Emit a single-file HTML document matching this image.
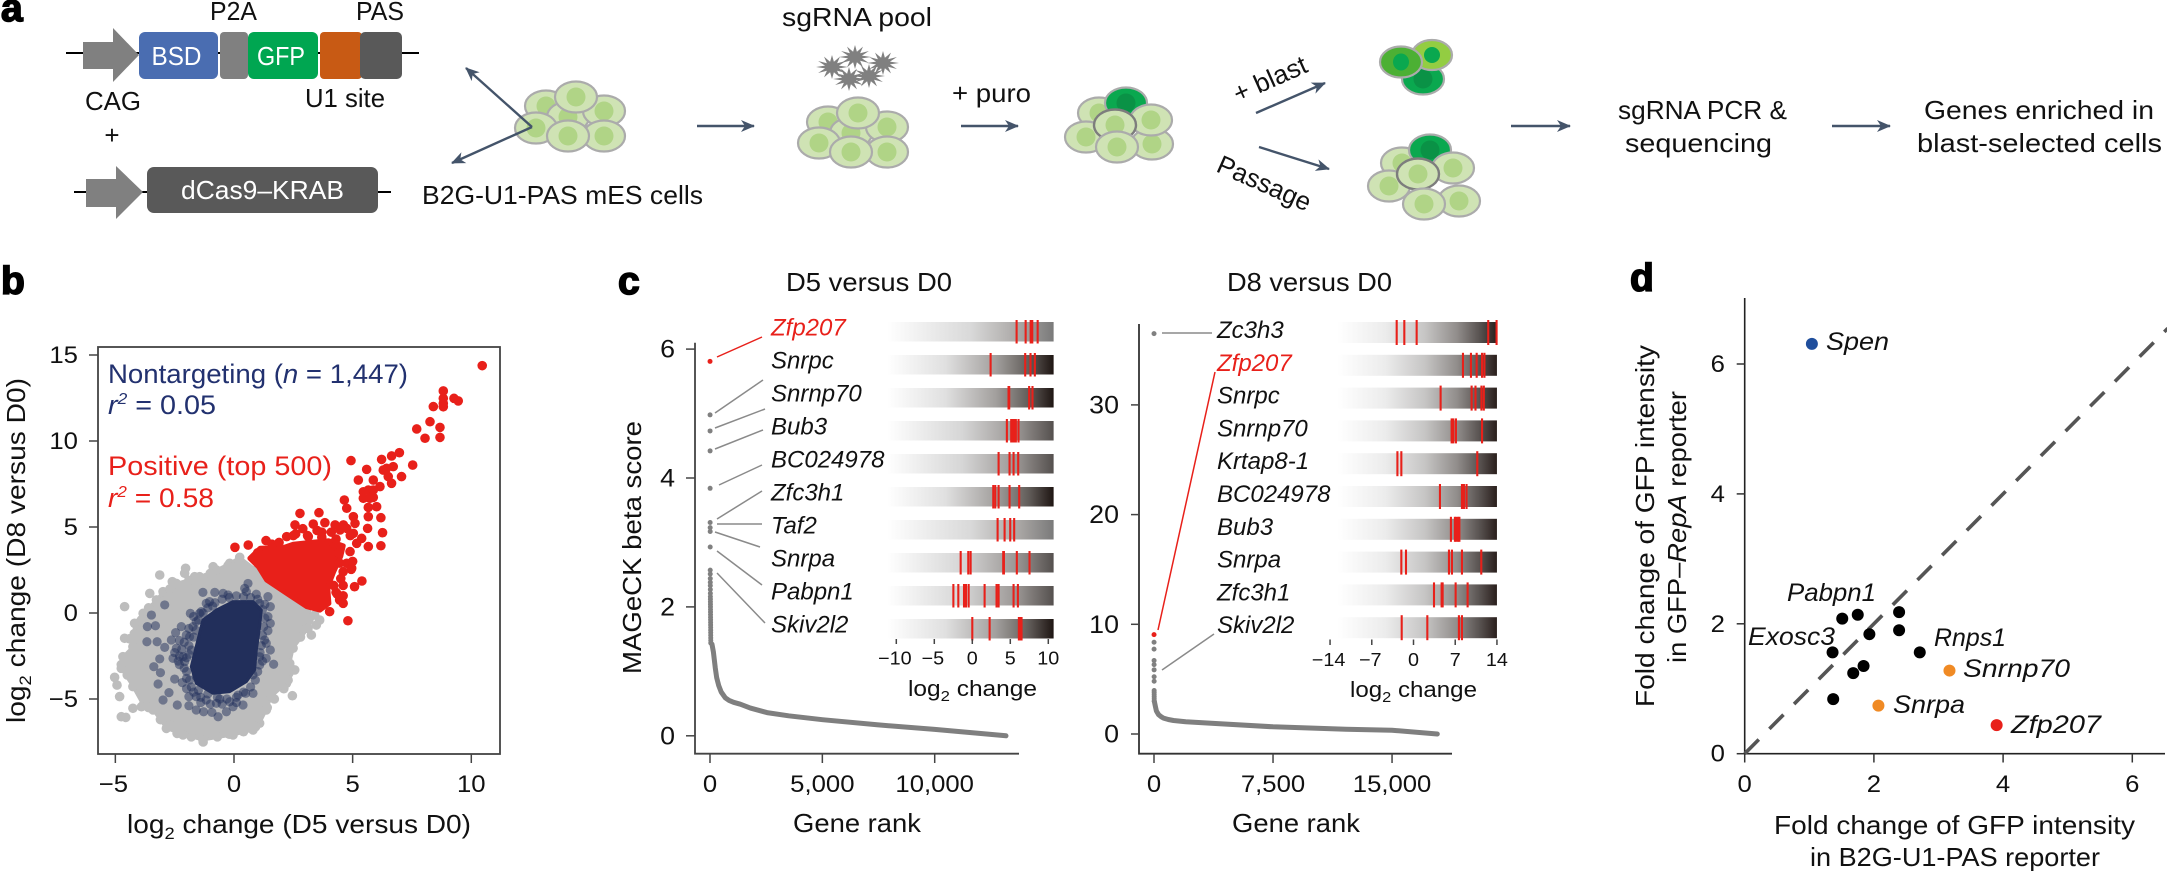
<!DOCTYPE html>
<html lang="en">
<head>
<meta charset="utf-8">
<title>CRISPRi screen figure</title>
<style>
html,body{margin:0;padding:0;background:#fff;}
svg{display:block;}
text{font-family:"Liberation Sans",sans-serif;fill:#111;}
.lab{font-family:"Liberation Sans",sans-serif;font-weight:bold;font-size:39px;fill:#000;stroke:#000;stroke-width:1.6px;}
.a{font-size:26px;}
.ax{font-size:26px;}
.it{font-style:italic;font-size:25px;}
</style>
</head>
<body>
<svg id="fig" xmlns="http://www.w3.org/2000/svg" width="2167" height="871" viewBox="0 0 2167 871">
<defs>
  <marker id="arrowhead" markerUnits="userSpaceOnUse" markerWidth="16" markerHeight="14" refX="13" refY="7" orient="auto">
    <path d="M0,1 L14,7 L0,13 L4,7 Z" fill="#44546a"/>
  </marker>
  <g id="cell-light"><ellipse rx="21" ry="15.5" fill="#cfe3b4" stroke="#ababab" stroke-width="2.2"/><ellipse rx="9.5" ry="9.5" fill="#b0d486"/></g>
  <g id="cell-front"><ellipse rx="21" ry="15.5" fill="#cfe3b4" stroke="#7d7d7d" stroke-width="2.4"/><ellipse rx="9.5" ry="9.5" fill="#b0d486"/></g>
  <g id="cell-dark"><ellipse rx="21" ry="15.5" fill="#0aa84f" stroke="#ababab" stroke-width="2.2"/><ellipse rx="9.5" ry="9.5" fill="#0a9246"/></g>
  <g id="cell-mid"><ellipse rx="21" ry="15.5" fill="#4cb034" stroke="#ababab" stroke-width="2.2"/><ellipse rx="8" ry="8.5" fill="#0aa84f"/></g>
  <g id="cell-lime"><ellipse rx="20" ry="15" fill="#93cd42" stroke="#ababab" stroke-width="2.2"/><ellipse rx="8" ry="8" fill="#0aa84f"/></g>
  <polygon id="sgrna-star" fill="#808080" points="16,0 6.95,1.4 13.9,6 5.1,3.8 8,10.4 1.9,5.2 0,12 -1.9,5.2 -8,10.4 -5.1,3.8 -13.9,6 -6.95,1.4 -16,0 -6.95,-1.4 -13.9,-6 -5.1,-3.8 -8,-10.4 -1.9,-5.2 0,-12 1.9,-5.2 8,-10.4 5.1,-3.8 13.9,-6 6.95,-1.4"/>
  <linearGradient id="strip-light"><stop offset="0" stop-color="#fff"/><stop offset=".5" stop-color="#d9d9d9"/><stop offset=".8" stop-color="#a8a5a3"/><stop offset="1" stop-color="#7a7a7a"/></linearGradient>
  <linearGradient id="strip-mid"><stop offset="0" stop-color="#fff"/><stop offset=".45" stop-color="#d6d6d6"/><stop offset=".78" stop-color="#9a9694"/><stop offset="1" stop-color="#55504e"/></linearGradient>
  <linearGradient id="strip-dark"><stop offset="0" stop-color="#fff"/><stop offset=".35" stop-color="#e0e0e0"/><stop offset=".65" stop-color="#a3a09e"/><stop offset=".85" stop-color="#625d5a"/><stop offset="1" stop-color="#1e1512"/></linearGradient>
  <linearGradient id="strip-d8"><stop offset="0" stop-color="#fff"/><stop offset=".3" stop-color="#ececec"/><stop offset=".55" stop-color="#c6c5c4"/><stop offset=".75" stop-color="#918d8b"/><stop offset=".9" stop-color="#554f4d"/><stop offset="1" stop-color="#2a1f1c"/></linearGradient>
</defs>

<!-- PANEL A -->
<g>
  <text class="lab" x="1" y="21">a</text>
  <g>
    <line x1="66" y1="53" x2="419" y2="53" stroke="#000" stroke-width="2"/>
    <polygon points="83,42 113,42 113,28 139,55 113,82 113,69 83,69" fill="#808080"/>
    <rect x="139" y="32" width="79" height="47" rx="6" fill="#4a6db1"/>
    <rect x="220" y="32" width="28" height="47" rx="4" fill="#808080"/>
    <rect x="248" y="32" width="70" height="47" rx="6" fill="#00a651"/>
    <rect x="320" y="32" width="42" height="47" rx="4" fill="#c85a14"/>
    <rect x="360" y="32" width="42" height="47" rx="5" fill="#595959"/>
    <text class="a" x="151.5" y="65" textLength="50" style="fill:#fff">BSD</text>
    <text class="a" x="257" y="65" textLength="48" style="fill:#fff">GFP</text>
    <text class="a" x="210" y="20" textLength="47">P2A</text>
    <text class="a" x="356" y="20" textLength="48">PAS</text>
    <text class="a" x="85" y="110" textLength="56">CAG</text>
    <text class="a" x="305" y="107" textLength="80">U1 site</text>
    <text class="a" x="112" y="144" text-anchor="middle">+</text>
  </g>
  <g>
    <line x1="74" y1="192" x2="391" y2="192" stroke="#000" stroke-width="2"/>
    <polygon points="86,179 116,179 116,166 143,192 116,219 116,207 86,207" fill="#808080"/>
    <rect x="147" y="167" width="231" height="46" rx="7" fill="#595959"/>
    <text class="a" x="181" y="199" textLength="163" style="fill:#fff">dCas9–KRAB</text>
  </g>
  <text class="a" x="422" y="204" textLength="281">B2G-U1-PAS mES cells</text>

  <g>
    <use href="#cell-light" x="546" y="106"/><use href="#cell-light" x="568" y="117"/><use href="#cell-light" x="604" y="111"/><use href="#cell-light" x="576" y="97"/><use href="#cell-light" x="536" y="128"/><use href="#cell-light" x="604" y="136"/><use href="#cell-light" x="568" y="136"/>
  </g>
  <line x1="532" y1="127" x2="466" y2="68" stroke="#44546a" stroke-width="2.4" marker-end="url(#arrowhead)"/>
  <line x1="532" y1="127" x2="452" y2="163" stroke="#44546a" stroke-width="2.4" marker-end="url(#arrowhead)"/>
  <line x1="697" y1="126" x2="754" y2="126" stroke="#44546a" stroke-width="2.4" marker-end="url(#arrowhead)"/>

  <text class="a" x="782" y="26" textLength="150">sgRNA pool</text>
  <g>
    <use href="#sgrna-star" x="832" y="67"/><use href="#sgrna-star" x="855" y="57"/><use href="#sgrna-star" x="883" y="63"/><use href="#sgrna-star" x="849" y="79"/><use href="#sgrna-star" x="869" y="76"/>
  </g>
  <g>
    <use href="#cell-light" x="828" y="122"/><use href="#cell-light" x="851" y="133"/><use href="#cell-light" x="887" y="127"/><use href="#cell-light" x="858" y="113"/><use href="#cell-light" x="819" y="143"/><use href="#cell-light" x="887" y="152"/><use href="#cell-light" x="851" y="152"/>
  </g>
  <text class="a" x="952" y="102" textLength="79">+ puro</text>
  <line x1="961" y1="126" x2="1018" y2="126" stroke="#44546a" stroke-width="2.4" marker-end="url(#arrowhead)"/>
  <g>
    <use href="#cell-light" x="1099" y="113"/><use href="#cell-dark" x="1126" y="103"/><use href="#cell-light" x="1152" y="144"/><use href="#cell-light" x="1151" y="120"/><use href="#cell-light" x="1086" y="137"/><use href="#cell-front" x="1115" y="125"/><use href="#cell-light" x="1117" y="147"/>
  </g>
  <text class="a" transform="translate(1238,103) rotate(-24)" textLength="78">+ blast</text>
  <line x1="1256" y1="113" x2="1325" y2="83" stroke="#44546a" stroke-width="2.4" marker-end="url(#arrowhead)"/>
  <text class="a" transform="translate(1215,171) rotate(24)" textLength="100">Passage</text>
  <line x1="1259" y1="147" x2="1329" y2="169" stroke="#44546a" stroke-width="2.4" marker-end="url(#arrowhead)"/>
  <g>
    <use href="#cell-dark" x="1423" y="79"/><use href="#cell-lime" x="1432" y="55"/><use href="#cell-mid" x="1401" y="62"/>
  </g>
  <g>
    <use href="#cell-light" x="1402" y="163"/><use href="#cell-dark" x="1430" y="150"/><use href="#cell-light" x="1459" y="201"/><use href="#cell-light" x="1453" y="168"/><use href="#cell-light" x="1389" y="186"/><use href="#cell-front" x="1418" y="174"/><use href="#cell-light" x="1424" y="204"/>
  </g>
  <line x1="1511" y1="126" x2="1570" y2="126" stroke="#44546a" stroke-width="2.4" marker-end="url(#arrowhead)"/>
  <text class="a" x="1618" y="119" textLength="169">sgRNA PCR &amp;</text>
  <text class="a" x="1625" y="152" textLength="147">sequencing</text>
  <line x1="1832" y1="126" x2="1890" y2="126" stroke="#44546a" stroke-width="2.4" marker-end="url(#arrowhead)"/>
  <text class="a" x="1924" y="119" textLength="230">Genes enriched in</text>
  <text class="a" x="1917" y="152" textLength="245">blast-selected cells</text>
</g>

<!-- PANEL B -->
<g>
  <text class="lab" x="1" y="294">b</text>
  <g id="b-marks"></g>
  <rect x="98" y="347" width="402" height="407" fill="none" stroke="#444" stroke-width="1.8"/>
  <g id="b-axes"></g>
  <text x="108" y="383" font-size="26.5" textLength="300" style="fill:#22316f">Nontargeting (<tspan font-style="italic">n</tspan> = 1,447)</text>
  <text x="108" y="414" font-size="26.5" textLength="108" style="fill:#22316f"><tspan font-style="italic">r</tspan><tspan dy="-10" font-size="16" font-style="italic">2</tspan><tspan dy="10"> = 0.05</tspan></text>
  <text x="108" y="475" font-size="26.5" textLength="224" style="fill:#e8201a">Positive (top 500)</text>
  <text x="108" y="507" font-size="26.5" textLength="106" style="fill:#e8201a"><tspan font-style="italic">r</tspan><tspan dy="-10" font-size="16" font-style="italic">2</tspan><tspan dy="10"> = 0.58</tspan></text>
  <text class="ax" x="127" y="833" textLength="344">log<tspan dy="6" font-size="17">2</tspan><tspan dy="-6"> change (D5 versus D0)</tspan></text>
  <text class="ax" transform="translate(25,723) rotate(-90)" textLength="345">log<tspan dy="6" font-size="17">2</tspan><tspan dy="-6"> change (D8 versus D0)</tspan></text>
</g>

<!-- PANEL C -->
<g>
  <text class="lab" x="618" y="294">c</text>
  <text class="ax" x="786" y="291" textLength="166">D5 versus D0</text>
  <text class="ax" x="1227" y="291" textLength="165">D8 versus D0</text>
  <g id="c-left"></g>
  <g id="c-right"></g>
  <g stroke="#8a8a8a" stroke-width="1.5">
    <line x1="717" y1="357" x2="762" y2="337" stroke="#e8201a"/>
    <line x1="715" y1="413" x2="763" y2="380"/>
    <line x1="715" y1="428" x2="765" y2="409"/>
    <line x1="715" y1="449" x2="763" y2="430"/>
    <line x1="719" y1="485" x2="762" y2="465"/>
    <line x1="717" y1="519" x2="762" y2="491"/>
    <line x1="717" y1="524" x2="762" y2="524"/>
    <line x1="715" y1="532" x2="760" y2="547"/>
    <line x1="717" y1="551" x2="762" y2="585"/>
    <line x1="717" y1="573" x2="765" y2="623"/>
  </g>
  <g stroke="#8a8a8a" stroke-width="1.5">
    <line x1="1162" y1="333" x2="1212" y2="333"/>
    <line x1="1158" y1="630" x2="1215" y2="372" stroke="#e8201a"/>
    <line x1="1162" y1="670" x2="1214" y2="634"/>
  </g>
  <text class="ax" x="793" y="832" textLength="128">Gene rank</text>
  <text class="ax" x="1232" y="832" textLength="128">Gene rank</text>
  <text class="ax" transform="translate(641,674) rotate(-90)" textLength="253">MAGeCK beta score</text>
  <text x="908" y="696" font-size="22" textLength="129">log<tspan dy="5" font-size="15">2</tspan><tspan dy="-5"> change</tspan></text>
  <text x="1350" y="697" font-size="22" textLength="127">log<tspan dy="5" font-size="15">2</tspan><tspan dy="-5"> change</tspan></text>
</g>

<!-- PANEL D -->
<g>
  <text class="lab" x="1630" y="291">d</text>
  <g id="d-chart"></g>
  <text class="it" x="1826" y="350" textLength="63">Spen</text>
  <text class="it" x="1787" y="601" textLength="89">Pabpn1</text>
  <text class="it" x="1748" y="645" textLength="87">Exosc3</text>
  <text class="it" x="1934" y="646" textLength="72">Rnps1</text>
  <text class="it" x="1963" y="677" textLength="107">Snrnp70</text>
  <text class="it" x="1893" y="713" textLength="72">Snrpa</text>
  <text class="it" x="2011" y="733" textLength="90">Zfp207</text>
  <text class="ax" x="1774" y="834" textLength="361">Fold change of GFP intensity</text>
  <text class="ax" x="1810" y="866" textLength="290">in B2G-U1-PAS reporter</text>
  <text class="ax" transform="translate(1654,707) rotate(-90)" textLength="362">Fold change of GFP intensity</text>
  <text class="ax" transform="translate(1686,663) rotate(-90)" textLength="272">in GFP–<tspan font-style="italic">RepA</tspan> reporter</text>
</g>
</svg>

<script>
/* ---------- panel b data (log2 change D5, log2 change D8) ---------- */
const grayCloud = [[0.24,3.24],[0.94,2.5],[1.92,1.34],[3.05,0.17],[3.4,-0.12],[3.12,-0.89],[2.49,-2.05],[2.35,-2.93],[2.56,-3.31],[2.21,-4.09],[1.57,-4.86],[1.36,-5.64],[1.08,-6.41],[0.8,-6.8],[-0.04,-7.09],[-1.31,-7.38],[-2.15,-7.09],[-2.85,-6.71],[-3.41,-5.64],[-3.83,-5.35],[-4.26,-4.28],[-4.75,-3.22],[-4.68,-2.54],[-4.26,-1.96],[-4.19,-0.6],[-3.83,-0.02],[-3.27,0.76],[-2.99,1.24],[-2.43,1.72],[-1.45,2.11],[-0.74,2.5],[-0.18,2.89]];
const grayOutliers = [[-4.61,0.37],[-3.13,2.21],[-2.6,1.82],[-2.08,2.31],[-1.66,2.11],[-2.04,2.6],[-0.88,2.69],[-0.25,2.75],[-3.55,1.14],[-5.03,-3.74],[-4.93,-4.19],[-4.82,-4.86],[-4.61,-1.47],[-4.75,-6.03],[-4.56,-6.07],[-4.26,-5.54],[2.46,-4.81],[2.28,-3.9],[3.26,-1.28],[3.61,-0.41],[3.47,-0.7],[-2.71,-6.51],[0.91,-6.61],[2.35,-3.12],[-4.4,-1.5],[-1.3,-7.5],[-0.2,-7.05],[-3.9,-5.45],[-4.75,-3.0],[-4.5,-3.6],[2.1,-4.4],[1.4,-5.5],[-3.6,0.3],[-3.9,-0.4],[-4.2,-1.2],[-2.7,1.4],[-1.9,1.9],[-1.0,2.3],[1.3,2.0],[2.4,0.8],[2.8,-1.4],[2.7,-0.6],[-2.4,-7.0],[-1.8,-7.2],[-0.7,-7.2],[0.4,-6.9],[-3.1,-6.2],[-3.6,-5.5],[1.7,-5.0],[2.0,-4.2]];
const navyCore = [[-0.04,0.66],[0.8,0.66],[1.15,0.17],[1.08,-0.79],[0.94,-2.15],[0.87,-3.31],[0.52,-3.99],[-0.18,-4.57],[-0.88,-4.67],[-1.59,-4.09],[-1.8,-3.12],[-1.66,-2.34],[-1.45,-1.18],[-1.31,-0.41],[-0.74,0.17]];
const navyPoints = [[0.59,1.72],[0.45,1.43],[0.52,1.24],[-1.31,1.2],[-0.81,1.2],[-0.46,1.14],[-0.25,1.05],[0.94,1.09],[1.43,0.95],[-1.03,0.66],[-2.92,0.47],[-3.48,-0.12],[-1.84,-0.02],[-1.38,0.08],[-1.59,-0.5],[1.53,0.37],[1.43,-0.21],[1.53,-0.6],[1.43,-1.03],[-3.65,-0.79],[-3.31,-0.74],[-2.22,-0.79],[-2.46,-1.14],[-2.01,-1.28],[-3.67,-1.67],[-3.24,-1.67],[-2.64,-1.57],[-2.92,-2],[-2.43,-2.05],[-2.15,-2.54],[-2.57,-2.64],[-3.13,-2.67],[-3.38,-3.12],[-3.1,-3.47],[-2.5,-3.84],[-2.18,-4.05],[-3.2,-4.13],[-2.74,-4.63],[-2.99,-5.06],[-2.39,-5.35],[-1.9,-4.86],[-1.59,-4.86],[-1.9,-5.39],[-1.59,-5.64],[-1.28,-5.74],[-0.93,-5.78],[-0.67,-6.03],[-0.32,-5.74],[-0.04,-5.45],[0.38,-5.35],[0.49,-4.67],[0.8,-4.67],[0.17,-4.77],[0.8,-3.6],[1.67,-2.98],[1.36,-2.64],[1.53,-2.15],[1.36,-1.76],[1.08,-3.02],[-2.08,-2.83],[-1.8,-2.15],[-1.87,-1.38],[-1.73,-0.79],[-1.59,-3.7],[-1.87,-3.9],[-1.17,-5.06],[-0.74,-5.25],[-0.18,-5.16],[-1.17,0.56],[-1.45,-0.02],[1.08,0.56],[1.29,-1.57],[1.08,-2.54],[-0.5,-5.3],[-0.6,-5.0],[0.1,-5.2],[-1.4,-4.9],[-2.0,-3.4],[-2.3,-3.0],[-2.2,-2.1],[-1.1,0.3],[-0.8,0.6],[-0.5,0.8],[-0.2,0.9],[0.1,1.0],[0.4,0.95],[0.7,0.9],[1.0,0.8],[1.3,0.5],[1.2,0.2],[1.3,-0.3],[1.25,-0.8],[1.2,-1.3],[1.15,-1.9],[1.1,-2.3],[1.2,-2.8],[1.0,-3.4],[0.9,-3.9],[0.7,-4.3],[0.4,-4.6],[0.1,-4.9],[-0.3,-5.0],[-0.7,-4.9],[-1.1,-4.7],[-1.5,-4.5],[-1.8,-4.3],[-2.0,-3.8],[-2.1,-3.2],[-2.0,-2.6],[-1.9,-1.9],[-1.7,-1.4],[-1.6,-1.0],[-1.5,-0.4],[-1.3,0],[-0.9,0.4],[-1.9,-2.4],[-2.3,-2.5],[-2.35,-2.8],[-2.5,-2.3],[-2.1,-1.7],[-2.3,-1.6],[-1.9,-0.9],[-1.7,-0.2],[-2.0,-4.4],[-1.7,-4.6],[-1.4,-5.2],[-1.0,-5.3]];
const redCore = [[0.67,3.18],[1.1,3.76],[2.08,3.8],[2.5,4.0],[3.2,4.1],[4.0,4.2],[4.6,3.9],[4.5,3.3],[4.2,2.4],[3.95,1.5],[4.0,0.56],[3.62,0.17],[3.06,0.37],[2.22,1.14],[1.38,1.92],[1.03,2.69]];
const redPoints = [[0.04,3.82],[0.6,3.95],[1.35,4.21],[2.78,5.79],[3.58,5.83],[2.57,5.12],[3.34,5.17],[3.83,5.25],[4.26,5.12],[4.61,5.12],[5.03,5.6],[5.1,5.21],[4.75,4.92],[2.22,4.44],[3.13,4.44],[5.38,4.34],[4.89,3.57],[5.66,3.86],[6.19,3.91],[6.26,4.67],[5.63,4.92],[6.19,5.54],[5.66,5.6],[6.01,6.18],[5.66,6.14],[4.75,6.09],[4.65,6.57],[5.45,6.67],[5.87,6.72],[5.66,7.15],[5.87,7.73],[5.24,7.73],[6.15,7.35],[6.64,7.54],[7.06,7.93],[7.53,8.6],[6.97,9.32],[6.64,9.13],[6.22,8.93],[6.71,8.51],[6.43,8.41],[5.59,8.35],[4.93,8.86],[6.5,7.93],[7.7,10.7],[8.05,10.16],[8.82,12.91],[8.82,12.48],[8.82,12.19],[8.82,11.99],[9.27,12.48],[9.45,12.33],[8.68,10.79],[8.68,10.21],[10.46,14.38],[8.26,11.12],[8.4,12.0],[6.29,8.31],[5.87,7.15],[5.73,6.67],[5.45,7.05],[4.19,4.05],[5.03,4.63],[4.47,4.83],[5.17,4.05],[4.75,2.89],[4.96,2.6],[5.39,1.86],[4.8,-0.45],[4.94,2.54],[5.08,1.53],[4.6,0.56],[4.03,0.08],[4.45,0.76],[5.0,3.0],[4.3,1.2],[4.6,1.0],[1.0,3.5],[1.6,4.0],[2.6,4.6],[3.7,4.7],[4.9,4.5],[4.45,2.9],[4.6,2.4],[4.5,2.0],[4.6,1.6],[4.35,1.1],[4.2,1.6],[4.4,3.5],[4.3,4.3],[3.7,4.4],[3.1,4.5],[2.5,4.5],[1.9,4.1],[2.9,4.9],[3.5,4.8],[4.1,4.7]];
const bXTicks = [-5,0,5,10];
const bYTicks = [-5,0,5,10,15];
const bXTickLabels = ['−5','0','5','10'];
const bYTickLabels = ['−5','0','5','10','15'];

/* ---------- panel c data ---------- */
const d5TopBeta = [5.81,4.98,4.73,4.42,3.84,3.31,3.23,3.17,2.93,2.57,2.51,2.44,2.38,2.33,2.27,2.21,2.16,2.12,2.08,2.04,2.0,1.96,1.92,1.88,1.84,1.8,1.76,1.72,1.68,1.64,1.6,1.56,1.52,1.48,1.44];
const d5CurveRank = [40,90,150,237,300,386,500,682,850,1050,1350,1800,2537,3500,5000,7430,10000,13175];
const d5CurveBeta = [1.44,1.42,1.3,1.05,0.9,0.78,0.68,0.59,0.55,0.52,0.49,0.43,0.36,0.31,0.25,0.17,0.1,0];
const d5XTicks = [0,5000,10000];
const d5XTickLabels = ['0','5,000','10,000'];
const d5YTicks = [0,2,4,6];
const d5YTickLabels = ['0','2','4','6'];
const d5Genes = ['Zfp207','Snrpc','Snrnp70','Bub3','BC024978','Zfc3h1','Taf2','Snrpa','Pabpn1','Skiv2l2'];
const d5GuideLfc = [
  [5.83,7.02,7.68,7.89,8.6],
  [2.41,6.96,7.66,8.23],
  [4.77,4.86,7.48,7.92],
  [4.55,5.12,5.3,5.51,5.73,6.08],
  [3.46,4.9,5.43,6.04],
  [2.76,3.02,3.46,4.9,6.17],
  [3.33,4.25,4.99,5.51],
  [-1.53,-0.53,-0.22,4.07,4.16,5.86,7.53],
  [-2.49,-1.84,-1.09,-0.83,-0.48,1.62,3.19,3.46,5.43,6.0],
  [0,2.28,6.13,6.35,6.48]
];
const d5LfcTicks = [-10,-5,0,5,10];
const d5LfcTickLabels = ['−10','−5','0','5','10'];

const d8TopBeta = [36.5,9.06,8.36,7.74,6.7,6.32,5.85,5.22,4.81,3.96,3.8,3.6,3.4,3.2,3.0];
const d8CurveRank = [20,80,150,290,450,600,900,1230,2000,3740,7500,12100,15000,17850];
const d8CurveBeta = [3.0,2.55,2.1,1.76,1.58,1.45,1.32,1.23,1.12,0.97,0.66,0.44,0.35,0];
const d8XTicks = [0,7500,15000];
const d8XTickLabels = ['0','7,500','15,000'];
const d8YTicks = [0,10,20,30];
const d8YTickLabels = ['0','10','20','30'];
const d8Genes = ['Zc3h3','Zfp207','Snrpc','Snrnp70','Krtap8-1','BC024978','Bub3','Snrpa','Zfc3h1','Skiv2l2'];
const d8GuideLfc = [
  [-2.82,-1.54,0.53,12.54,13.94],
  [8.3,9.64,10.6,11.5,11.9],
  [4.55,9.75,10.4,11.4,11.8],
  [6.4,6.68,7.12,11.5],
  [-2.7,-2.04,10.7],
  [4.44,8.13,8.46,8.9],
  [6.28,6.95,7.2,7.5,7.7],
  [-2.04,-1.26,5.95,6.45,8.13,11.37],
  [3.44,4.72,4.89,7.07,9.08],
  [-1.98,2.32,7.62,8.13]
];
const d8LfcTicks = [-14,-7,0,7,14];
const d8LfcTickLabels = ['−14','−7','0','7','14'];

/* ---------- panel d data ---------- */
const foldBlack = [[1.51,2.08],[1.75,2.14],[1.93,1.84],[2.39,2.18],[2.39,1.9],[2.71,1.56],[1.36,1.56],[1.84,1.35],[1.68,1.24],[1.37,0.84]];
const foldSpen = [[1.04,6.31]];
const foldOrange = [[3.17,1.28],[2.07,0.74]];
const foldRed = [[3.9,0.44]];
const dTicks = [0,2,4,6];
const dTickLabels = ['0','2','4','6'];

/* ---------- axis functions ---------- */
const bx = v => 234 + 23.73 * v;
const by = v => 613 - 17.2 * v;
const d5x = v => 710 + 0.02247 * v;
const d5y = v => 735.8 - 64.45 * v;
const d5lfc = v => 972.3 + 7.6 * v;
const d8x = v => 1154 + 0.01587 * v;
const d8y = v => 734 - 10.97 * v;
const d8lfc = v => 1413.5 + 5.96 * v;
const dx = v => 1744.7 + 64.6 * v;
const dy = v => 753.7 - 64.95 * v;

const NS = 'http://www.w3.org/2000/svg';
function make(tag, parent, attrs) {
  const el = document.createElementNS(NS, tag);
  for (const k in attrs) el.setAttribute(k, attrs[k]);
  parent.appendChild(el);
  return el;
}
function word(parent, x, y, str, size, anchor, italic) {
  const t = make('text', parent, { x: x, y: y, 'font-size': size, 'text-anchor': anchor });
  if (italic) t.setAttribute('font-style', 'italic');
  t.textContent = str;
  if (!italic) {
    t.setAttribute('textLength', (t.getComputedTextLength() * 1.07).toFixed(1));
  }
  return t;
}
function toPoints(list, fx, fy) {
  return list.map(p => fx(p[0]).toFixed(1) + ',' + fy(p[1]).toFixed(1)).join(' ');
}

/* ---------- panel b ---------- */
const bMarks = document.getElementById('b-marks');
const grayHull = make('polygon', bMarks, { points: toPoints(grayCloud, bx, by), fill: '#bdbdbd', stroke: '#bdbdbd', 'stroke-width': 3, 'stroke-linejoin': 'round' });


grayCloud.concat(grayOutliers).forEach(p => {
  const c = make('circle', bMarks, { cx: bx(p[0]), cy: by(p[1]), r: 4.8, fill: '#bdbdbd' });
  
  
});
navyPoints.forEach(p => {
  const c = make('circle', bMarks, { cx: bx(p[0]), cy: by(p[1]), r: 4.6, fill: '#222f5b', 'fill-opacity': 0.5 });
  
  
});
const navyHull = make('polygon', bMarks, { points: toPoints(navyCore, bx, by), fill: '#222f5b', stroke: '#222f5b', 'stroke-width': 3, 'stroke-linejoin': 'round' });


const redHull = make('polygon', bMarks, { points: toPoints(redCore, bx, by), fill: '#e8201a', stroke: '#e8201a', 'stroke-width': 5, 'stroke-linejoin': 'round' });


redPoints.forEach(p => {
  const c = make('circle', bMarks, { cx: bx(p[0]), cy: by(p[1]), r: 4.8, fill: '#e8201a' });
  
  
});
const bAxes = document.getElementById('b-axes');
bXTicks.forEach((v, i) => {
  const tk = make('line', bAxes, { x1: bx(v), x2: bx(v), y1: 754, y2: 763, stroke: '#444', 'stroke-width': 1.5 });
  
  
  const lb = word(bAxes, bx(v) - (v < 0 ? 2 : 0), 792, bXTickLabels[i], 24, 'middle');
  
  
});
bYTicks.forEach((v, i) => {
  const tk = make('line', bAxes, { x1: 89, x2: 98, y1: by(v), y2: by(v), stroke: '#444', 'stroke-width': 1.5 });
  
  
  const lb = word(bAxes, 78, by(v) + 8, bYTickLabels[i], 24, 'end');
  
  
});

/* ---------- panel c ---------- */
function strips(root, genes, hits, lfc, lfcFrom, lfcTo, rowTop, rowH, fills, labelX, labelBase, redIdx) {
  genes.forEach((g, i) => {
    const top = rowTop(i);
    const st = make('rect', root, { x: lfc(lfcFrom), y: top, width: lfc(lfcTo) - lfc(lfcFrom), height: rowH, fill: 'url(#' + fills[i] + ')' });
    
    
    hits[i].forEach(v => {
      const m = make('line', root, { x1: lfc(v), x2: lfc(v), y1: top - 2, y2: top + rowH + 2, stroke: '#e8201a', 'stroke-width': 2.1 });
      
      
    });
    const t = word(root, labelX, labelBase(i), g, 24, 'start', true);
    
    
    if (i === redIdx) t.style.fill = '#e8201a';
  });
}
const cLeft = document.getElementById('c-left');
const d5Fills = ['strip-light','strip-dark','strip-dark','strip-mid','strip-mid','strip-dark','strip-light','strip-mid','strip-mid','strip-dark'];
strips(cLeft, d5Genes, d5GuideLfc, d5lfc, -11.2, 10.7, i => 322 + 33 * i, 19.5, d5Fills, 771, i => 335.5 + 33 * i, 0);
const d5Spine = make('path', cLeft, { d: 'M695,342.8 V753.7 H1019', fill: 'none', stroke: '#444', 'stroke-width': 1.8 });


d5YTicks.forEach((v, i) => {
  const tk = make('line', cLeft, { x1: 686, x2: 695, y1: d5y(v), y2: d5y(v), stroke: '#444', 'stroke-width': 1.5 });
  
  
  const lb = word(cLeft, 675, d5y(v) + 8.5, d5YTickLabels[i], 25, 'end');
  
  
});
d5XTicks.forEach((v, i) => {
  const tk = make('line', cLeft, { x1: d5x(v), x2: d5x(v), y1: 753.7, y2: 763, stroke: '#444', 'stroke-width': 1.5 });
  
  
  const lb = word(cLeft, d5x(v), 792, d5XTickLabels[i], 24, 'middle');
  
  
});
const d5Curve = make('polyline', cLeft, { points: d5CurveRank.map((r, i) => d5x(r).toFixed(1) + ',' + d5y(d5CurveBeta[i]).toFixed(1)).join(' '), fill: 'none', stroke: '#7f7f7f', 'stroke-width': 5, 'stroke-linecap': 'round', 'stroke-linejoin': 'round' });


d5TopBeta.forEach((b, i) => {
  const c = make('circle', cLeft, { cx: d5x(i + 1), cy: d5y(b), r: 2.5, fill: i === 0 ? '#e8201a' : '#808080' });
  
  
});
d5LfcTicks.forEach((v, i) => {
  const tk = make('line', cLeft, { x1: d5lfc(v), x2: d5lfc(v), y1: 639, y2: 644, stroke: '#444', 'stroke-width': 1.5 });
  
  
  const lb = word(cLeft, d5lfc(v) - (v < 0 ? 1.5 : 0), 664.5, d5LfcTickLabels[i], 18.5, 'middle');
  
  
});

const cRight = document.getElementById('c-right');
const d8Fills = d8Genes.map(() => 'strip-d8');
strips(cRight, d8Genes, d8GuideLfc, d8lfc, -12.8, 14, i => 322 + 32.8 * i, 21, d8Fills, 1217, i => 338 + 32.8 * i, 1);
const d8Spine = make('path', cRight, { d: 'M1139,324 V753.7 H1452', fill: 'none', stroke: '#333', 'stroke-width': 1.8 });


d8YTicks.forEach((v, i) => {
  const tk = make('line', cRight, { x1: 1131, x2: 1139, y1: d8y(v), y2: d8y(v), stroke: '#444', 'stroke-width': 1.5 });
  
  
  const lb = word(cRight, 1119, d8y(v) + 8.5, d8YTickLabels[i], 25, 'end');
  
  
});
d8XTicks.forEach((v, i) => {
  const tk = make('line', cRight, { x1: d8x(v), x2: d8x(v), y1: 753.7, y2: 763, stroke: '#444', 'stroke-width': 1.5 });
  
  
  const lb = word(cRight, d8x(v), 792, d8XTickLabels[i], 24, 'middle');
  
  
});
const d8Curve = make('polyline', cRight, { points: d8CurveRank.map((r, i) => d8x(r).toFixed(1) + ',' + d8y(d8CurveBeta[i]).toFixed(1)).join(' '), fill: 'none', stroke: '#7f7f7f', 'stroke-width': 5, 'stroke-linecap': 'round', 'stroke-linejoin': 'round' });


d8TopBeta.forEach((b, i) => {
  const c = make('circle', cRight, { cx: d8x(i + 1), cy: d8y(b), r: 2.5, fill: i === 1 ? '#e8201a' : '#808080' });
  
  
});
d8LfcTicks.forEach((v, i) => {
  const tk = make('line', cRight, { x1: d8lfc(v), x2: d8lfc(v), y1: 639.5, y2: 645, stroke: '#444', 'stroke-width': 1.5 });
  
  
  const lb = word(cRight, d8lfc(v) - (v < 0 ? 1.5 : 0), 666, d8LfcTickLabels[i], 18.5, 'middle');
  
  
});

/* ---------- panel d ---------- */
const dRoot = document.getElementById('d-chart');
const dSpine = make('path', dRoot, { d: 'M1744.7,298 V753.7 H2165', fill: 'none', stroke: '#222', 'stroke-width': 1.6 });


const diag = make('line', dRoot, { x1: dx(0), y1: dy(0), x2: dx(6.55), y2: dy(6.55), stroke: '#555', 'stroke-width': 3.6, 'stroke-dasharray': '20 15' });


dTicks.forEach((v, i) => {
  const ty = make('line', dRoot, { x1: 1736.7, x2: 1744.7, y1: dy(v), y2: dy(v), stroke: '#333', 'stroke-width': 1.5 });
  
  
  const ly = word(dRoot, 1725, dy(v) + 8, dTickLabels[i], 24, 'end');
  
  
  const tx = make('line', dRoot, { x1: dx(v), x2: dx(v), y1: 753.7, y2: 762.5, stroke: '#333', 'stroke-width': 1.5 });
  
  
  const lx = word(dRoot, dx(v), 792, dTickLabels[i], 24, 'middle');
  
  
});
foldBlack.forEach(p => {
  const c = make('circle', dRoot, { cx: dx(p[0]), cy: dy(p[1]), r: 6, fill: '#000' });
  
  
});
foldSpen.forEach(p => {
  const c = make('circle', dRoot, { cx: dx(p[0]), cy: dy(p[1]), r: 6, fill: '#1f4e9c' });
  
  
});
foldOrange.forEach(p => {
  const c = make('circle', dRoot, { cx: dx(p[0]), cy: dy(p[1]), r: 6, fill: '#f08a24' });
  
  
});
foldRed.forEach(p => {
  const c = make('circle', dRoot, { cx: dx(p[0]), cy: dy(p[1]), r: 6, fill: '#e8201a' });
  
  
});

/* stretch glyphs (not only gaps) wherever a text width is fixed */
Array.from(document.getElementsByTagNameNS(NS, 'text')).forEach(t => {
  if (t.hasAttribute('textLength')) t.setAttribute('lengthAdjust', 'spacingAndGlyphs');
});
</script>
</body>
</html>
